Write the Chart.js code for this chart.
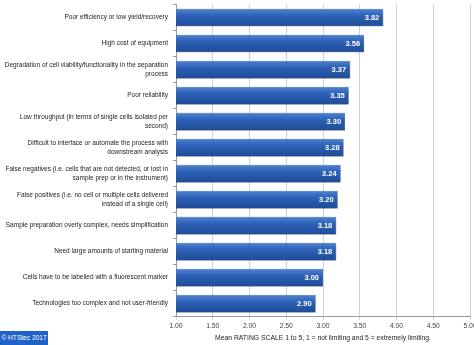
<!DOCTYPE html>
<html>
<head>
<meta charset="utf-8">
<script src="https://cdn.jsdelivr.net/npm/chart.js@4"></script>
<style>
  html, body { margin: 0; padding: 0; background: #fff; overflow: hidden; }
  #wrap { position: relative; width: 484px; height: 345px; }
  #copy {
    position: absolute; left: 0; top: 331px; width: 48px; height: 14px;
    background: #1f63c6; color: #fff; font: 6.6px "Liberation Sans", Arial, sans-serif;
    line-height: 14px; text-align: center; white-space: nowrap; overflow: hidden;
  }
</style>
</head>
<body>
<div id="wrap">
  <canvas id="chart" width="484" height="345"></canvas>
  <div id="copy">© HTStec 2017</div>
</div>
<script>
const categories = [
  ["Poor efficiency or low yield/recovery"],
  ["High cost of equipment"],
  ["Degradation of cell viability/functionality in the separation", "process"],
  ["Poor reliability"],
  ["Low throughput (in terms of single cells isolated per", "second)"],
  ["Difficult to interface or automate the process with", "downstream analysis"],
  ["False negatives (i.e. cells that are not detected, or lost in", "sample prep or in the instrument)"],
  ["False positives (i.e. no cell or multiple cells delivered", "instead of a single cell)"],
  ["Sample preparation overly complex, needs simplification"],
  ["Need large amounts of starting material"],
  ["Cells have to be labelled with a fluorescent marker"],
  ["Technologies too complex and not user-friendly"]
];
const ratings = [3.82, 3.56, 3.37, 3.35, 3.30, 3.28, 3.24, 3.20, 3.18, 3.18, 3.00, 2.90];
const axisTitle = "Mean RATING SCALE 1 to 5, 1 = not limiting and 5 = extremely limiting.";

const labelFont = "'Liberation Sans', Arial, sans-serif";

// excel-ish gradient + shadow on each bar
const barStyle = {
  id: "barStyle",
  beforeDatasetsDraw(chart) {
    const { ctx } = chart;
    chart.getDatasetMeta(0).data.forEach((bar) => {
      const h = bar.height;
      const g = ctx.createLinearGradient(0, bar.y - h / 2, 0, bar.y + h / 2);
      g.addColorStop(0, "#4f82d0");
      g.addColorStop(0.4, "#2d61b6");
      g.addColorStop(1, "#1d4b96");
      bar.options = Object.assign({}, bar.options, { backgroundColor: g });
    });
    ctx.save();
    ctx.shadowColor = "rgba(0,0,0,0.35)";
    ctx.shadowBlur = 3;
    ctx.shadowOffsetX = 1;
    ctx.shadowOffsetY = 2;
  },
  afterDatasetsDraw(chart) {
    const { ctx } = chart;
    ctx.restore();
    ctx.save();
    ctx.fillStyle = "#ffffff";
    ctx.font = "bold 7.5px 'Liberation Sans', Arial, sans-serif";
    ctx.textAlign = "right";
    ctx.textBaseline = "middle";
    chart.getDatasetMeta(0).data.forEach((bar, i) => {
      ctx.fillText(ratings[i].toFixed(2), bar.x - 4, bar.y);
    });
    ctx.restore();
  }
};

new Chart(document.getElementById("chart"), {
  type: "bar",
  data: {
    labels: categories,
    datasets: [{
      data: ratings,
      backgroundColor: "#2f64ba",
      borderColor: "#1c4588",
      borderWidth: 0.5,
      borderSkipped: false,
      categoryPercentage: 1,
      barPercentage: 0.68
    }]
  },
  options: {
    indexAxis: "y",
    responsive: false,
    animation: false,
    layout: { padding: { top: 4.5, right: 14, bottom: 0, left: 0 } },
    plugins: {
      legend: { display: false },
      tooltip: { enabled: false }
    },
    scales: {
      x: {
        min: 1,
        max: 5,
        ticks: {
          stepSize: 0.5,
          font: { size: 6.8, family: labelFont },
          color: "#444",
          padding: 2,
          callback: (v) => Number(v).toFixed(2)
        },
        grid: { color: "#cfcfcf", lineWidth: 1, tickLength: 3 },
        border: { color: "#9a9a9a" },
        title: {
          display: true,
          text: axisTitle,
          font: { size: 6.8, family: labelFont },
          color: "#222",
          padding: { top: 2, bottom: 3 }
        }
      },
      y: {
        afterFit(scale) {
          scale.width = 176;
          scale.paddingTop = 0;
          scale.paddingBottom = 0;
        },
        ticks: {
          font: { size: 6.5, family: labelFont, lineHeight: 1.45 },
          color: "#222",
          padding: 5
        },
        grid: { drawOnChartArea: false, offset: true, tickLength: 3, color: "#9a9a9a" },
        border: { color: "#9a9a9a" }
      }
    }
  },
  plugins: [barStyle]
});
</script>
</body>
</html>
